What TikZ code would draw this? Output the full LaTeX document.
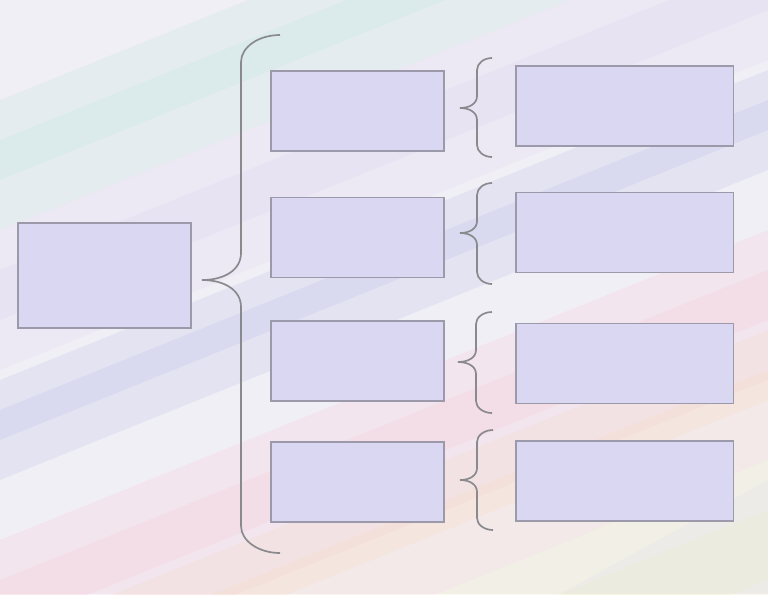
\documentclass[tikz,border=0pt]{standalone}
\usepackage{tikz}
\usetikzlibrary{positioning}

\definecolor{boxfill}{HTML}{DAD7F2}
\definecolor{boxline}{HTML}{9C9AAA}
\definecolor{braceline}{HTML}{8A8A8E}
\definecolor{paper}{HTML}{F1EFF6}
\definecolor{mint}{HTML}{C9E8E0}
\definecolor{lilac}{HTML}{E2D8F0}
\definecolor{bluish}{HTML}{C4C8EA}
\definecolor{rosy}{HTML}{F6CFDC}
\definecolor{peach}{HTML}{F8DCCB}
\definecolor{lemon}{HTML}{F2F0C4}
\definecolor{greyish}{HTML}{E2E4EA}

\tikzset{
  box/.style={draw=boxline, fill=boxfill, line width=0.9pt, inner sep=0pt},
  rootbox/.style={box, minimum width=4.33cm, minimum height=2.63cm},
  midbox/.style={box, minimum width=4.33cm, minimum height=2cm},
  leafbox/.style={box, minimum width=5.43cm, minimum height=2cm},
  bracestyle/.style={draw=braceline, line width=1.2pt},
  band/.style={opacity=0.3}
}

% #1 end x, #2 line x, #3 tip x, #4 top y, #5 tip y, #6 bottom y, #7 curve length
\newcommand{\kbrace}[7]{%
  \draw[bracestyle] (#1,#4)
    .. controls ({#2+0.45*(#1-#2)},#4) and (#2,{#4+0.45*#7}) .. (#2,{#4+#7})
    -- (#2,{#5-#7})
    .. controls (#2,{#5-0.35*#7}) and ({#2-0.45*(#2-#3)},#5) .. (#3,#5)
    .. controls ({#2-0.45*(#2-#3)},#5) and (#2,{#5+0.35*#7}) .. (#2,{#5+#7})
    -- (#2,{#6-#7})
    .. controls (#2,{#6-0.45*#7}) and ({#2+0.45*(#1-#2)},#6) .. (#1,#6);
}

\begin{document}
\begin{tikzpicture}[x=0.025cm, y=-0.025cm]
  \useasboundingbox (0,0) rectangle (768,594);

  % watercolour background
  \fill[paper] (0,0) rectangle (768,594);
  \begin{scope}
    \clip (0,0) rectangle (768,594);
    \foreach \y/\t/\c in {100/80/mint, 140/90/mint, 230/90/lilac, 270/100/lilac,
                          380/60/bluish, 410/70/bluish, 540/90/rosy, 580/110/rosy,
                          640/70/peach, 680/90/peach, 770/120/lemon, 820/140/lemon}
      \fill[\c, band] (0,\y) -- (768,{\y-310}) -- (768,{\y-310+\t}) -- (0,{\y+\t}) -- cycle;
    \fill[greyish, band] (560,594) -- (768,480) -- (768,594) -- cycle;
  \end{scope}

  % boxes
  \node[rootbox] (root) at (104.5,275.5) {};

  \node[midbox] (m1) at (357.5,111) {};
  \node[midbox] (m2) at (357.5,237.5) {};
  \node[midbox] (m3) at (357.5,361) {};
  \node[midbox] (m4) at (357.5,482) {};

  \node[leafbox] (l1) at (624.5,106) {};
  \node[leafbox] (l2) at (624.5,232.5) {};
  \node[leafbox] (l3) at (624.5,363.5) {};
  \node[leafbox] (l4) at (624.5,481) {};

  % braces
  \kbrace{280}{241}{202}{35}{280}{553}{27}
  \kbrace{492}{477}{460}{58}{108}{157}{12}
  \kbrace{492}{477}{460}{183}{233}{284}{12}
  \kbrace{492}{476}{458}{312}{362}{413}{12}
  \kbrace{493}{477}{460}{430}{480}{530}{12}
\end{tikzpicture}
\end{document}
